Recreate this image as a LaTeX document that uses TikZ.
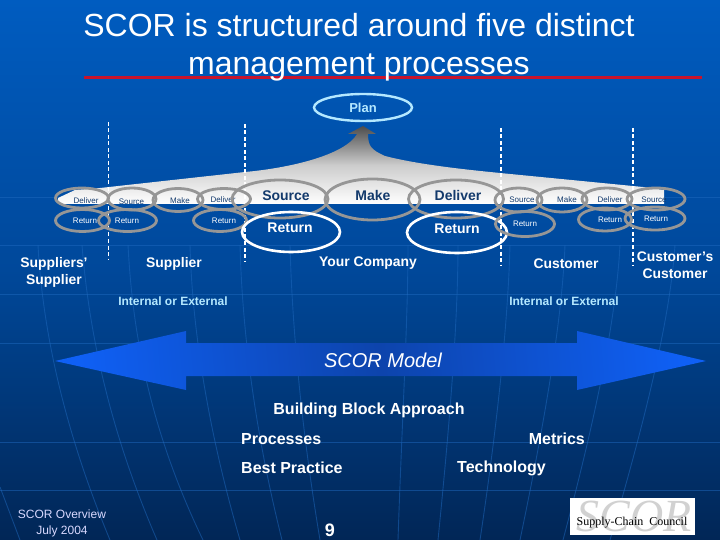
\documentclass[tikz,border=0pt]{standalone}
\usepackage{fontspec}
\setmainfont{Liberation Sans}
\newfontfamily\logofont{Liberation Serif}
\usetikzlibrary{shapes.geometric}
\definecolor{bgtop}{HTML}{005CC0}
\definecolor{bgmid}{HTML}{00489A}
\definecolor{bgbot}{HTML}{012656}
\definecolor{navytext}{HTML}{133A6C}
\definecolor{planblue}{HTML}{B4E8FF}
\definecolor{ringgray}{HTML}{969696}
\definecolor{gridblue}{HTML}{1F69BE}
\definecolor{rulered}{HTML}{C8142C}
\definecolor{arrowbright}{HTML}{0F60F5}
\definecolor{arrowdark}{HTML}{0D44AC}
\tikzset{
  gridline/.style={gridblue,line width=0.9pt,opacity=0.5},
  boundary/.style={white,line width=1.6pt,dash pattern=on 4pt off 2.5pt},
  smallring/.style={ellipse,draw=ringgray,line width=2.8pt,inner sep=0pt},
  bigring/.style={ellipse,draw=ringgray,line width=2.8pt,inner sep=0pt},
  returnring/.style={ellipse,draw=white,line width=2.6pt,inner sep=0pt},
  smalldark/.style={navytext,font=\fontsize{8}{8}\selectfont,inner sep=0pt},
  smalllight/.style={white,font=\fontsize{8}{8}\selectfont,inner sep=0pt},
  bigdark/.style={navytext,font=\fontsize{14}{14}\selectfont\bfseries,inner sep=0pt},
  biglight/.style={white,font=\fontsize{14}{14}\selectfont\bfseries,inner sep=0pt},
  partner/.style={white,font=\fontsize{13.9}{17}\selectfont\bfseries,align=center,inner sep=0pt},
  scope label/.style={planblue,font=\fontsize{12}{12}\selectfont\bfseries,inner sep=0pt},
  body text/.style={white,font=\fontsize{16}{16}\selectfont\bfseries,inner sep=0pt}
}
\begin{document}
\begin{tikzpicture}[x=1pt,y=-1pt]
  % Background
  \useasboundingbox (0,0) rectangle (720,540);
  \shade[top color=bgtop,bottom color=bgbot,middle color=bgmid] (0,0) rectangle (720,540);
  \draw[gridline] (0,197) -- (720,197);
  \draw[gridline] (0,245) -- (720,245);
  \draw[gridline] (0,294) -- (720,294);
  \draw[gridline] (0,343) -- (720,343);
  \draw[gridline] (0,442) -- (720,442);
  \draw[gridline] (0,490) -- (720,490);
  \draw[gridline] (38,245) .. controls (42,320) and (60,420) .. (110,540);
  \draw[gridline] (82,245) .. controls (88,320) and (105,420) .. (157,540);
  \draw[gridline] (128,245) .. controls (132,320) and (145,420) .. (203,540);
  \draw[gridline] (190,245) .. controls (192,320) and (205,420) .. (240,540);
  \draw[gridline] (240,245) .. controls (242,320) and (252,420) .. (282,540);
  \draw[gridline] (290,245) .. controls (292,320) and (300,420) .. (320,540);
  \draw[gridline] (0,487) -- (20,540);
  \draw[gridline] (408,245) .. controls (408,320) and (402,420) .. (398,540);
  \draw[gridline] (458,245) .. controls (458,320) and (450,420) .. (438,540);
  \draw[gridline] (510,245) .. controls (508,320) and (498,420) .. (480,540);
  \draw[gridline] (565,245) .. controls (562,320) and (545,420) .. (520,540);
  \draw[gridline] (620,245) .. controls (616,320) and (595,420) .. (563,540);
  \draw[gridline] (675,245) .. controls (670,320) and (645,420) .. (610,540);
  % Title
  \coordinate (ruleL) at (84,78);
  \coordinate (ruleR) at (702,78);
  \draw[rulered,line width=3pt] (ruleL) -- (ruleR);
  \node[white,font=\fontsize{32}{38}\selectfont,align=center,inner sep=0pt] (title) at (359,47)
    {SCOR is structured around five distinct\\management processes};
  % Plan arrow
  \shade[top color=black!70,bottom color=white,middle color=black!20]
    (363,126) -- (376,134) -- (368,134)
    .. controls (368,147) and (372,150) .. (385,156)
    .. controls (420,165) and (470,170) .. (500,173)
    -- (643,187) -- (664,190) -- (664,204) -- (58,204) -- (58,198) -- (75,190) -- (100,188)
    -- (245,172)
    .. controls (290,168) and (345,155) .. (357,134)
    -- (348,134) -- cycle;
  % Boundaries
  \coordinate (b1t) at (108.5,122);
  \coordinate (b1b) at (108.5,259);
  \coordinate (b2t) at (245,124);
  \coordinate (b2b) at (245,262);
  \coordinate (b3t) at (501,128);
  \coordinate (b3b) at (501,265);
  \coordinate (b4t) at (633,128);
  \coordinate (b4b) at (633,265);
  \draw[boundary] (b1t) -- (b1b);
  \draw[boundary] (b2t) -- (b2b);
  \draw[boundary] (b3t) -- (b3b);
  \draw[boundary] (b4t) -- (b4b);
  % Plan
  \node[ellipse,draw=planblue,line width=2.4pt,minimum width=98pt,minimum height=27pt,inner sep=0pt,
    text=planblue,font=\fontsize{13}{13}\selectfont\bfseries] (plan) at (363,107.5) {Plan};
  % Suppliers supplier and supplier
  \node[smallring,minimum width=53pt,minimum height=20pt] (dl1) at (82,198) {};
  \node[smallring,minimum width=48pt,minimum height=22pt] (sr1) at (132,199) {};
  \node[smallring,minimum width=50pt,minimum height=23pt] (mk1) at (178,200) {};
  \node[smallring,minimum width=53pt,minimum height=21pt] (dl2) at (224,199) {};
  \node[smallring,minimum width=54pt,minimum height=22pt] (rt1) at (82.5,220.5) {};
  \node[smallring,minimum width=58pt,minimum height=22pt] (rt2) at (127.5,220.5) {};
  \node[smallring,minimum width=53pt,minimum height=22pt] (rt3) at (220,220.5) {};
  \node[smalldark] (dl1t) at (86,201) {Deliver};
  \node[smalldark] (sr1t) at (131.5,201.5) {Source};
  \node[smalldark] (mk1t) at (180,201) {Make};
  \node[smalldark] (dl2t) at (223,200) {Deliver};
  \node[smalllight] (rt1t) at (85,221) {Return};
  \node[smalllight] (rt2t) at (127,221) {Return};
  \node[smalllight] (rt3t) at (224,221) {Return};
  % Your company
  \node[bigring,minimum width=96pt,minimum height=38pt] (sr2) at (280,199) {};
  \node[bigring,minimum width=95pt,minimum height=41pt] (mk2) at (372.5,199.5) {};
  \node[bigring,minimum width=95pt,minimum height=38pt] (dl3) at (456,199) {};
  \node[returnring,minimum width=98pt,minimum height=40pt] (rt4) at (291,232) {};
  \node[returnring,minimum width=100pt,minimum height=41pt] (rt5) at (457,232.5) {};
  \node[bigdark] (sr2t) at (286,195.5) {Source};
  \node[bigdark] (mk2t) at (373,195.5) {Make};
  \node[bigdark] (dl3t) at (458,195.5) {Deliver};
  \node[biglight] (rt4t) at (290,227.5) {Return};
  \node[biglight] (rt5t) at (457,228.5) {Return};
  % Customer and customers customer
  \node[smallring,minimum width=47pt,minimum height=24pt] (sr3) at (518.5,200) {};
  \node[smallring,minimum width=50pt,minimum height=24pt] (mk3) at (562,200) {};
  \node[smallring,minimum width=50pt,minimum height=22pt] (dl4) at (607,199) {};
  \node[smallring,minimum width=58pt,minimum height=22pt] (sr4) at (656,199) {};
  \node[smallring,minimum width=59pt,minimum height=25pt] (rt6) at (525,224) {};
  \node[smallring,minimum width=53pt,minimum height=23pt] (rt7) at (605,219.5) {};
  \node[smallring,minimum width=60pt,minimum height=23pt] (rt8) at (655,218.5) {};
  \node[smalldark] (sr3t) at (522,200) {Source};
  \node[smalldark] (mk3t) at (567,200) {Make};
  \node[smalldark] (dl4t) at (610,200) {Deliver};
  \node[smalldark] (sr4t) at (654,200) {Source};
  \node[smalllight] (rt6t) at (525,224) {Return};
  \node[smalllight] (rt7t) at (610,220) {Return};
  \node[smalllight] (rt8t) at (656,219) {Return};
  % Partner labels
  \node[partner] (ssup) at (54,272) {Suppliers'\\Supplier};
  \node[partner] (sup) at (174,264) {Supplier};
  \node[partner] (comp) at (368,263.5) {Your Company};
  \node[partner] (cust) at (566,264) {Customer};
  \node[partner] (ccust) at (675,265) {Customer's\\Customer};
  \node[scope label] (ie1) at (173,301) {Internal or External};
  \node[scope label] (ie2) at (564,301) {Internal or External};
  % SCOR model arrow
  \shade[left color=arrowbright,right color=arrowbright,middle color=arrowdark,shading angle=95]
    (55,361) -- (186,331) -- (186,343) -- (577,343)
    -- (577,331) -- (706,361) -- (577,390) -- (577,376) -- (186,376) -- (186,390) -- cycle;
  \node[white,font=\fontsize{20}{20}\selectfont\itshape,inner sep=0pt] (model) at (383,360) {SCOR Model};
  % Body text
  \node[body text] (block) at (369,410) {Building Block Approach};
  \node[body text,anchor=west] (proc) at (241,439) {Processes};
  \node[body text,anchor=east] (metr) at (585,439) {Metrics};
  \node[body text,anchor=west] (best) at (241,468) {Best Practice};
  \node[body text,anchor=west] (tech) at (457,468) {Technology};
  \node[white!85!blue,font=\fontsize{12}{16}\selectfont,align=center,inner sep=0pt] (foot) at (62,523) {SCOR Overview\\July 2004};
  \node[white,font=\fontsize{18}{18}\selectfont\bfseries,inner sep=0pt] (page) at (330,530) {9};
  % Logo
  \fill[white] (570,498) rectangle (695,535);
  \node[black!18,font=\fontsize{46}{46}\logofont\itshape,inner sep=0pt] (logoa) at (634,516) {SCOR};
  \node[black,font=\fontsize{12}{12}\logofont,inner sep=0pt] (logob) at (632,523) {Supply-Chain\ \ Council};
\end{tikzpicture}
\end{document}
